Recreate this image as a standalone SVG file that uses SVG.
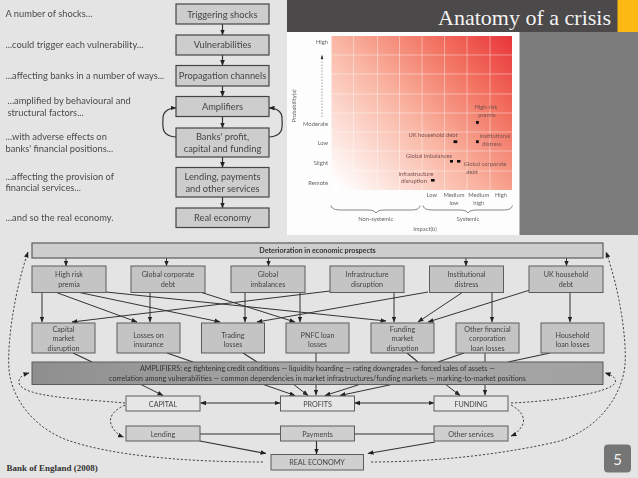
<svg xmlns="http://www.w3.org/2000/svg" width="638" height="478" viewBox="0 0 638 478">
<style>
text{font-family:Lato,"Open Sans","Liberation Sans",sans-serif;fill:#4a4a4a}
.l{font-size:9.300px}
.m{font-size:9.300px;text-anchor:middle;fill:#444}
.s{font-size:7.200px;text-anchor:middle;fill:#444}
.h{font-size:5.800px;text-anchor:middle;fill:#7a5050}
.a{font-size:5.800px;fill:#666}
.am{text-anchor:middle}
.ae{text-anchor:end}
.b1{fill:#cdcdcd;stroke:#444;stroke-width:1.200}
.b2{fill:#c4c4c4;stroke:#5c5c5c;stroke-width:1}
.b3{fill:#e6e6e6;stroke:#5c5c5c;stroke-width:1}
.b4{fill:#cfcfcf;stroke:#5c5c5c;stroke-width:1}
.c{fill:none;stroke:#333;stroke-width:1;marker-end:url(#ah)}
.p{fill:none;stroke:#333;stroke-width:1.100}
.d{fill:none;stroke:#444;stroke-width:1;stroke-dasharray:2.200 1.800;marker-end:url(#ah)}
.k{fill:none;stroke:#333;stroke-width:1.200;marker-end:url(#ah)}
.t{marker-start:url(#as)}
.gl{stroke:#fff;stroke-opacity:.5;stroke-width:.8}
.sq{fill:#111}
.br{fill:none;stroke:#666;stroke-width:.8}
</style>
<defs>
<marker id="ah" markerUnits="userSpaceOnUse" markerWidth="6" markerHeight="5" refX="5.500" refY="2.500" orient="auto"><path d="M0 .2L6 2.500L0 4.800z" fill="#222"/></marker>
<marker id="as" markerUnits="userSpaceOnUse" markerWidth="6" markerHeight="5" refX=".5" refY="2.500" orient="auto"><path d="M6 .2L0 2.500L6 4.800z" fill="#222"/></marker>
<linearGradient id="heat" gradientUnits="userSpaceOnUse" x1="512" y1="36" x2="345" y2="195">
<stop offset="0" stop-color="#e8343a"/><stop offset=".25" stop-color="#f2705f"/><stop offset=".55" stop-color="#f9b3a0"/><stop offset="1" stop-color="#fff"/>
</linearGradient>
<linearGradient id="amp" x1="0" x2="1" y1="0" y2="0"><stop offset="0" stop-color="#8e8e8e"/><stop offset=".5" stop-color="#a8a8a8"/><stop offset="1" stop-color="#a2a2a2"/></linearGradient>
<filter id="soft" x="-5%" y="-5%" width="110%" height="110%"><feGaussianBlur stdDeviation=".3"/></filter>
</defs>
<rect width="638" height="478" fill="#e4e4e4"/>
<rect x="287" y="0" width="331" height="32" fill="#4b4949"/>
<rect x="617.500" y="0" width="20.500" height="32" fill="#fdb913"/>
<rect x="287" y="32" width="233" height="203" fill="#fdfdfd"/>
<rect x="519.500" y="32" width="118.500" height="203" fill="#7c7c7c"/>
<text x="611" y="25" text-anchor="end" style="font-family:'Liberation Serif','DejaVu Serif',serif;font-size:22px;fill:#f4f4f4">Anatomy of a crisis</text>
<g filter="url(#soft)">
<g id="left-labels" class="l">
<text x="5.500" y="17">A number of shocks...</text>
<text x="5.500" y="48">...could trigger each vulnerability...</text>
<text x="5.500" y="79">...affecting banks in a number of ways...</text>
<text x="7.500" y="103.500">...amplified by behavioural and</text>
<text x="7.500" y="115.500">structural factors...</text>
<text x="5.500" y="140">...with adverse effects on</text>
<text x="5.500" y="151.500">banks' financial positions...</text>
<text x="5.500" y="179.500">...affecting the provision of</text>
<text x="5.500" y="191">financial services...</text>
<text x="5.500" y="221">...and so the real economy.</text>
</g>
<g id="flow-connectors">
<path class="k" d="M222.500 24V35"/><path class="k" d="M222.500 55V65.500"/><path class="k" d="M222.500 86V96.500"/><path class="k" d="M222.500 116.500V128"/><path class="k" d="M222.500 157V167.500"/><path class="k" d="M222.500 197V208"/>
<path class="k" d="M176 137C160 136 163 125 163 118C163 112 168 108 176 108"/>
<path class="k" d="M269 137C285 136 282 125 282 118C282 112 277 108 269 108"/>
</g>
<g id="flow-triggering"><rect class="b1" x="176" y="4" width="93" height="20"/><text class="m" x="222.500" y="17.500">Triggering shocks</text></g>
<g id="flow-vulnerabilities"><rect class="b1" x="176" y="35" width="93" height="20"/><text class="m" x="222.500" y="48">Vulnerabilities</text></g>
<g id="flow-propagation"><rect class="b1" x="176" y="65.500" width="93" height="20.500"/><text class="m" x="222.500" y="79">Propagation channels</text></g>
<g id="flow-amplifiers"><rect class="b1" x="176" y="96.500" width="93" height="20"/><text class="m" x="222.500" y="110">Amplifiers</text></g>
<g id="flow-banks"><rect class="b1" x="176" y="128" width="93" height="29"/><text class="m" x="222.500" y="140">Banks' profit,</text><text class="m" x="222.500" y="151.500">capital and funding</text></g>
<g id="flow-lending"><rect class="b1" x="176" y="167.500" width="93" height="29.500"/><text class="m" x="222.500" y="180">Lending, payments</text><text class="m" x="222.500" y="191.500">and other services</text></g>
<g id="flow-real"><rect class="b1" x="176" y="208" width="93" height="19.500"/><text class="m" x="222.500" y="221">Real economy</text></g>

<g id="heatmap">
<rect x="331.500" y="36" width="180.500" height="154" fill="url(#heat)"/>
<path class="gl" d="M353.500 36V190M377.500 36V190M399.500 36V190M422 36V190M444.500 36V190M467 36V190M490 36V190M331.500 55H512M331.500 74H512M331.500 94H512M331.500 113H512M331.500 132H512M331.500 151H512M331.500 171H512"/>
<rect class="sq" x="476" y="121" width="2.800" height="2.800"/><rect class="sq" x="453.500" y="140.300" width="3.800" height="2.800"/><rect class="sq" x="476" y="140.300" width="2.800" height="2.800"/><rect class="sq" x="450" y="160" width="3" height="2.600"/><rect class="sq" x="457" y="160" width="3.400" height="2.600"/><rect class="sq" x="431" y="179" width="3.600" height="2.600"/>
<text class="h" x="486" y="109">High-risk</text><text class="h" x="487" y="116.500">premia</text>
<text class="h" x="433" y="137">UK household debt</text>
<text class="h" x="495" y="137.500">institutional</text><text class="h" x="492" y="145.500">distress</text>
<text class="h" x="429" y="158">Global imbalances</text>
<text class="h" x="485" y="166">Global corporate</text><text class="h" x="472" y="173.500">debt</text>
<text class="h" x="416" y="175.500">infrastructure</text><text class="h" x="414" y="183">disruption</text>
<text class="a ae" x="328" y="44">High</text><text class="a ae" x="328" y="125.500">Moderate</text><text class="a ae" x="328" y="145">Low</text><text class="a ae" x="328" y="165">Slight</text><text class="a ae" x="328" y="184.500">Remote</text>
<path d="M322 117V56" fill="none" stroke="#777" stroke-width=".7" stroke-dasharray="1.500 1.500"/><path d="M320.800 59L322 54.500L323.200 59z" fill="#222"/>
<text class="a am" transform="translate(296 106) rotate(-90)">Probability(a)</text>
<text class="a am" x="431.700" y="197">Low</text><text class="a am" x="454" y="197">Medium</text><text class="a am" x="454" y="204.500">low</text><text class="a am" x="478.700" y="197">Medium</text><text class="a am" x="478.700" y="204.500">high</text><text class="a am" x="501" y="197">High</text>
<path class="br" d="M331 205.500C332 210 337 210 345 210H368C372 210 375 211 376 213C377 211 380 210 384 210H410C417 210 419 209 420 205.500"/>
<path class="br" d="M423 205.500C424 210 429 210 437 210H460C464 210 467 211 468 213C469 211 472 210 476 210H502C509 210 511 209 512.500 205.500"/>
<text class="a am" x="375.700" y="220.500">Non-systemic</text><text class="a am" x="468" y="220.500">Systemic</text><text class="a am" x="425" y="230.500">Impact(b)</text>
</g>

<g id="connectors">
<path class="c" d="M66 258V266"/><path class="c" d="M166.500 258V266"/><path class="c" d="M268.500 258V266"/><path class="c" d="M466 258V266"/><path class="c" d="M566.500 258V266"/>
<path class="c" d="M42 292V322"/><path class="c" d="M55 292L137 322"/><path class="c" d="M77 292L220 322"/><path class="c" d="M106 292L386 321"/><path class="c" d="M150 292V322"/><path class="c" d="M200 292L295 322"/><path class="c" d="M245 292V322"/><path class="c" d="M300 292V322"/><path class="c" d="M330 291L72 322"/><path class="c" d="M428 292L257 322"/><path class="c" d="M394 292V322"/><path class="c" d="M463 292L418 322"/><path class="c" d="M492 292V322"/><path class="c" d="M530 290L428 322"/><path class="c" d="M570 292V322"/>
<path class="p" d="M73 353L92 362"/><path class="p" d="M167 353L193 362"/><path class="p" d="M243 353L257 362"/><path class="p" d="M407 353L418 362"/><path class="p" d="M464 353L438 362"/><path class="p" d="M550 353L508 362"/>
<path class="c" d="M316 353V395"/><path class="c" d="M485 353V395"/><path class="c" d="M140 384L163 395.500"/><path class="c" d="M262 384L295 395.500"/><path class="c" d="M293 384L308 395.500"/><path class="c" d="M361 384L325 395.500"/><path class="c" d="M394 384L340 395.500"/><path class="c" d="M445 384L460 395.500"/>
<path class="k t" d="M200.500 403H280"/><path class="k t" d="M354.500 403H434"/>
<path class="p" d="M200 434H281"/><path class="p" d="M354 434H434"/>
<path class="k" d="M316.500 441V454"/><path class="k" d="M200 441L266 453.500"/><path class="k" d="M435 442L368 453.500"/>
<path class="d" d="M125 403C80 399 22 397 19 383C18 378 22 375 29 373"/>
<path class="d" d="M125 405C112 411 109 418 111 424C113 430 118 435 123.500 437"/>
<path class="d" d="M263 462C180 462 110 455 67 440C35 428 12 400 9 370C7 340 15 290 28 252"/>
<path class="d" d="M371 462C440 462 510 453 560 441C600 428 622 395 625 365C627 335 618 285 606 252"/>
<path class="d" d="M511 403C560 401 610 392 615 383C617 378 612 375 605 373"/>
<path class="d" d="M511 405C522 411 525 418 523 424C520 430 516 434 511 436"/>
</g>

<g id="det"><rect class="b1" style="stroke:#5c5c5c" x="32" y="243" width="571" height="15"/><text class="s" x="317.500" y="253" style="font-weight:700;fill:#333">Deterioration in economic prospects</text></g>
<g id="n-highrisk"><rect class="b2" x="32" y="266" width="74" height="26.500"/><text class="s" x="69" y="277">High risk</text><text class="s" x="69" y="287">premia</text></g>
<g id="n-corp"><rect class="b2" x="131" y="266" width="74" height="26.500"/><text class="s" x="168" y="277">Global corporate</text><text class="s" x="168" y="287">debt</text></g>
<g id="n-imb"><rect class="b2" x="231" y="266" width="74" height="26.500"/><text class="s" x="268" y="277">Global</text><text class="s" x="268" y="287">imbalances</text></g>
<g id="n-infra"><rect class="b2" x="330" y="266" width="74" height="26.500"/><text class="s" x="367" y="277">Infrastructure</text><text class="s" x="367" y="287">disruption</text></g>
<g id="n-inst"><rect class="b2" x="429.500" y="266" width="74" height="26.500"/><text class="s" x="466.500" y="277">Institutional</text><text class="s" x="466.500" y="287">distress</text></g>
<g id="n-uk"><rect class="b2" x="529" y="266" width="74" height="26.500"/><text class="s" x="566" y="277">UK household</text><text class="s" x="566" y="287">debt</text></g>
<g id="n-capital-d"><rect class="b2" x="32" y="323" width="63" height="30"/><text class="s" x="63.500" y="331.500">Capital</text><text class="s" x="63.500" y="341">market</text><text class="s" x="63.500" y="350.500">disruption</text></g>
<g id="n-insurance"><rect class="b2" x="117" y="323" width="63" height="30"/><text class="s" x="148.500" y="337.500">Losses on</text><text class="s" x="148.500" y="346.500">insurance</text></g>
<g id="n-trading"><rect class="b2" x="201.500" y="323" width="63" height="30"/><text class="s" x="233" y="337.500">Trading</text><text class="s" x="233" y="346.500">losses</text></g>
<g id="n-pnfc"><rect class="b2" x="286" y="323" width="63" height="30"/><text class="s" x="317.500" y="337.500">PNFC loan</text><text class="s" x="317.500" y="346.500">losses</text></g>
<g id="n-funding-d"><rect class="b2" x="371" y="323" width="63" height="30"/><text class="s" x="402.500" y="331.500">Funding</text><text class="s" x="402.500" y="341">market</text><text class="s" x="402.500" y="350.500">disruption</text></g>
<g id="n-other"><rect class="b2" x="456" y="323" width="63" height="30"/><text class="s" x="487.500" y="331.500">Other financial</text><text class="s" x="487.500" y="341">corporation</text><text class="s" x="487.500" y="350.500">loan losses</text></g>
<g id="n-household"><rect class="b2" x="541" y="323" width="63" height="30"/><text class="s" x="572.500" y="337.500">Household</text><text class="s" x="572.500" y="346.500">loan losses</text></g>
<g id="n-amplifiers"><rect x="32" y="362" width="571" height="22.500" fill="url(#amp)" stroke="#5c5c5c"/><text class="s" x="317.500" y="371" style="fill:#333">AMPLIFIERS:  eg tightening credit conditions — liquidity hoarding — rating downgrades — forced sales of assets —</text><text class="s" x="317.500" y="381" style="fill:#333">correlation among vulnerabilities — common dependencies in market infrastructures/funding markets — marking-to-market positions</text></g>
<g id="n-capital"><rect class="b3" x="126" y="396" width="74" height="15"/><text class="s" x="163" y="406.500">CAPITAL</text></g>
<g id="n-profits"><rect class="b3" x="280.500" y="396" width="74" height="15"/><text class="s" x="317.500" y="406.500">PROFITS</text></g>
<g id="n-funding"><rect class="b3" x="434" y="396" width="74" height="15"/><text class="s" x="471" y="406.500">FUNDING</text></g>
<g id="n-lending"><rect class="b4" x="126" y="426" width="74" height="15"/><text class="s" x="163" y="436.500">Lending</text></g>
<g id="n-payments"><rect class="b4" x="280.500" y="426" width="74" height="15"/><text class="s" x="317.500" y="436.500">Payments</text></g>
<g id="n-services"><rect class="b4" x="434" y="426" width="74" height="15"/><text class="s" x="471" y="436.500">Other services</text></g>
<g id="n-real"><rect class="b4" x="271" y="454.500" width="92.500" height="15.500"/><text class="s" x="317" y="465">REAL ECONOMY</text></g>
</g>
<text x="6.500" y="471" style="font-family:'Liberation Serif','DejaVu Serif',serif;font-size:9px;font-weight:700;fill:#333">Bank of England (2008)</text>
<rect x="604" y="444.500" width="27" height="28" rx="4" fill="#757575"/>
<text x="617.500" y="465" text-anchor="middle" style="font-size:15px;fill:#f2f2f2">5</text>
</svg>
